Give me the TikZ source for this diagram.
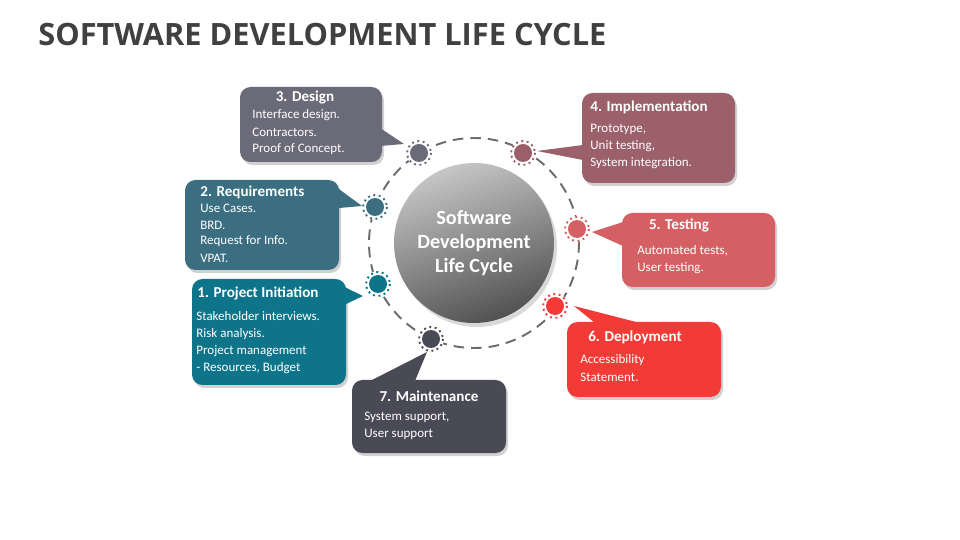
\documentclass[tikz,border=0pt]{standalone}
\usepackage{fontspec}
\setmainfont{Carlito}
\newfontfamily\titlefont{Open Sans}
\usetikzlibrary{fit}
\definecolor{cdes}{HTML}{6A6A78}
\definecolor{creq}{HTML}{3B6E80}
\definecolor{cini}{HTML}{0E7489}
\definecolor{cmai}{HTML}{4A4A56}
\definecolor{cimp}{HTML}{9B6069}
\definecolor{ctes}{HTML}{D46063}
\definecolor{cdep}{HTML}{F23B36}
\definecolor{ctitle}{HTML}{404040}
\tikzset{
  box/.style={rounded corners=6pt, inner sep=0pt},
  shad/.style={fill=black, opacity=0.18, rounded corners=6pt},
  dotc/.style={circle, minimum size=18*0.02cm, inner sep=0pt},
  ring/.style={dotted, line width=1.1pt},
  hd/.style={font=\bfseries\fontsize{8.6}{10}\selectfont, text=white, inner sep=0pt},
  bd/.style={font=\fontsize{7.4}{9.6}\selectfont, text=white, inner sep=0pt, anchor=west},
}
\newcommand{\callout}[9]{%
  \fill[shad] (#3+2,#4+3) rectangle (#5+2,#6+3);
  \fill[#2] #7 -- #8 -- #9 -- cycle;
  \node[box, fill=#2, fit={(#3,#4)(#5,#6)}] (#1) {};
}
\begin{document}
\begin{tikzpicture}[x=0.02cm,y=-0.02cm]
\useasboundingbox (0,0) rectangle (960,540);
\fill[white] (0,0) rectangle (960,540);
\node[anchor=west, inner sep=0, text=ctitle, font=\titlefont\bfseries\fontsize{17.5}{20}\selectfont] (title) at (38,35) {SOFTWARE DEVELOPMENT LIFE CYCLE};

% ring
\node[circle, draw=gray!85!black, dashed, dash pattern=on 6pt off 4pt, line width=1.1pt, minimum size=210*0.02cm, inner sep=0] (ringc) at (474,243) {};
\fill[black, opacity=0.15] (477,247) circle (80);
\node[circle, minimum size=160*0.02cm, inner sep=0, top color=gray!45, bottom color=black!68, shading angle=20] (core) at (474,243) {};
\node[align=center, text=white, font=\bfseries\fontsize{11.5}{13.7}\selectfont] (coret) at (474,243) {Software\\Development\\Life Cycle};

% callouts
\callout{bdes}{cdes}{240}{87}{382}{162}{(380,128)}{(404,144)}{(380,146)}
\callout{breq}{creq}{185}{180}{339}{270}{(328,181)}{(362,206)}{(339,208)}
\callout{bini}{cini}{192}{279}{346}{385}{(330,280)}{(363,296)}{(346,304)}
\callout{bmai}{cmai}{352}{380}{506}{453}{(370,381)}{(427,352)}{(415,381)}
\callout{bimp}{cimp}{582}{93}{735}{183}{(583,145)}{(537,151)}{(583,160)}
\callout{btes}{ctes}{622}{213}{775}{287}{(623,222)}{(592,232)}{(623,246)}
\callout{bdep}{cdep}{567}{322}{721}{397}{(595,323)}{(574,306)}{(640,323)}

% dots
\foreach \n/\c/\x/\y in {ddes/cdes/419/153, dimp/cimp/523/153, dreq/creq/375/207, dtes/ctes/577/229, dini/cini/378/284, ddep/cdep/555/306, dmai/cmai/431/339}{
  \fill[white] (\x,\y) circle (13);
  \node[dotc, fill=\c] (\n) at (\x,\y) {};
  \draw[ring, \c] (\x,\y) circle (12);
}

% texts
\node[hd] (hdes) at (305,97) {3. Design};
\node[bd] (t1) at (252,115) {Interface design.};
\node[bd] (t2) at (252,132) {Contractors.};
\node[bd] (t3) at (252,149) {Proof of Concept.};

\node[hd, anchor=west] (hreq) at (200,192) {2. Requirements};
\node[bd] (t4) at (200,208) {Use Cases.};
\node[bd] (t5) at (200,225) {BRD.};
\node[bd] (t6) at (200,241) {Request for Info.};
\node[bd] (t7) at (200,258) {VPAT.};

\node[hd, anchor=west] (hini) at (197,293) {1. Project Initiation};
\node[bd] (t8) at (196,316) {Stakeholder interviews.};
\node[bd] (t9) at (196,334) {Risk analysis.};
\node[bd] (t10) at (196,351) {Project management};
\node[bd] (t11) at (196,368) {- Resources, Budget};

\node[hd] (hmai) at (429,396) {7. Maintenance};
\node[bd] (t12) at (364,417) {System support,};
\node[bd] (t13) at (364,434) {User support};

\node[hd, anchor=west] (himp) at (590,107) {4. Implementation};
\node[bd] (t14) at (590,129) {Prototype,};
\node[bd] (t15) at (590,146) {Unit testing,};
\node[bd] (t16) at (590,163) {System integration.};

\node[hd] (htes) at (679,225) {5. Testing};
\node[bd] (t17) at (637,251) {Automated tests,};
\node[bd] (t18) at (637,268) {User testing.};

\node[hd] (hdep) at (635,337) {6. Deployment};
\node[bd] (t19) at (580,360) {Accessibility};
\node[bd] (t20) at (580,377) {Statement.};
\end{tikzpicture}
\end{document}
